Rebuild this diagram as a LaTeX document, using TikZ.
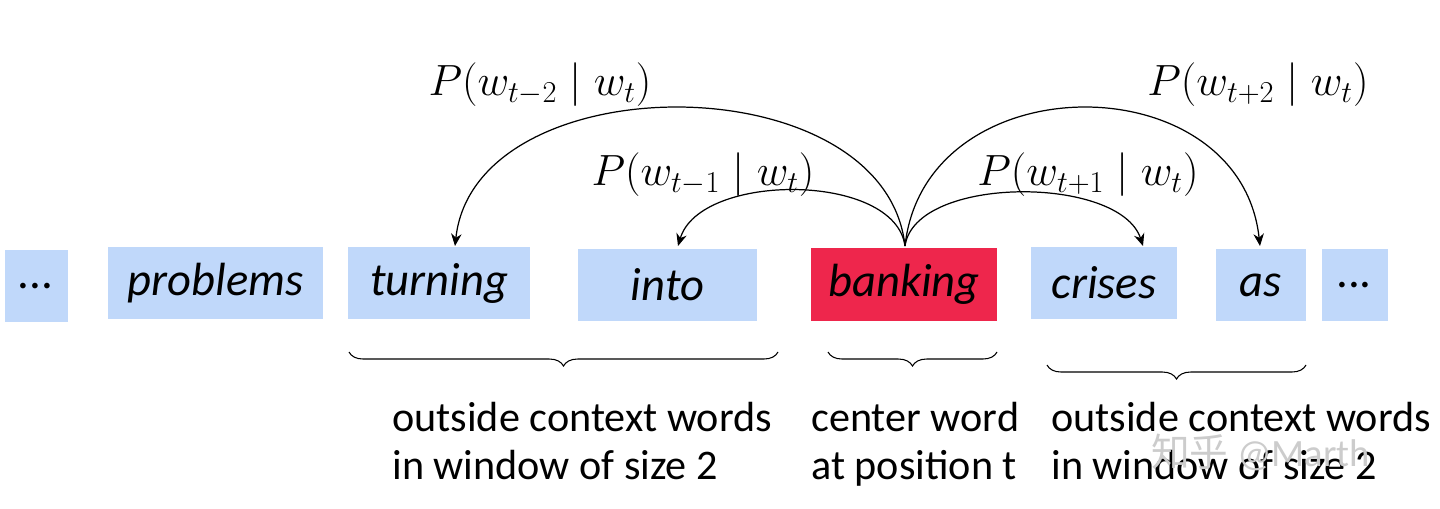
\documentclass[tikz,border=0pt]{standalone}
\usepackage{fontspec}
\setmainfont{Carlito}
\newfontfamily\cjk{Noto Sans CJK SC}
\usetikzlibrary{decorations.pathreplacing,arrows.meta}
\begin{document}
\begin{tikzpicture}[x=0.02cm,y=-0.02cm,
 wb/.style={fill={rgb,255:red,192;green,216;blue,250},inner sep=0,font=\fontsize{26.5}{28}\selectfont\itshape},
 arc/.style={-{Stealth[length=7pt,width=6pt]},line width=0.7pt},
 lab/.style={font=\fontsize{24}{27.5}\selectfont,align=left,anchor=north west,inner sep=0},
 br/.style={decorate,decoration={brace,mirror,amplitude=8pt},line width=0.6pt},
 pl/.style={font=\fontsize{25}{27}\selectfont}]
\useasboundingbox (0,0) rectangle (1440,509);
\node[wb,minimum width=63*0.02cm,minimum height=72*0.02cm] (d1) at (36.5,286) {...};
\node[wb,minimum width=215*0.02cm,minimum height=72*0.02cm] (w1) at (215.5,283) {problems};
\node[wb,minimum width=182*0.02cm,minimum height=72*0.02cm] (w2) at (439,283) {turning};
\node[wb,minimum width=179*0.02cm,minimum height=72*0.02cm] (w3) at (667.5,285) {into};
\node[wb,fill={rgb,255:red,238;green,38;blue,76},minimum width=186*0.02cm,minimum height=73*0.02cm] (w4) at (904,284.5) {banking};
\node[wb,minimum width=146*0.02cm,minimum height=72*0.02cm] (w5) at (1104,283) {crises};
\node[wb,minimum width=90*0.02cm,minimum height=72*0.02cm] (w6) at (1261,285) {as};
\node[wb,minimum width=66*0.02cm,minimum height=72*0.02cm] (d2) at (1355,285) {...};
\coordinate (s) at (905,246);
\draw[arc] (s) .. controls (885,62) and (475,62) .. (455,246);
\draw[arc] (s) .. controls (895,172) and (700,172) .. (678,246);
\draw[arc] (s) .. controls (915,175) and (1120,175) .. (1143,246);
\draw[arc] (s) .. controls (925,62) and (1240,62) .. (1260,246);
\node[pl] (p1) at (540,85) {$P(w_{t-2}\mid w_t)$};
\node[pl] (p2) at (703,175) {$P(w_{t-1}\mid w_t)$};
\node[pl] (p3) at (1088,175) {$P(w_{t+1}\mid w_t)$};
\node[pl] (p4) at (1258,85) {$P(w_{t+2}\mid w_t)$};
\coordinate (b1a) at (349,352); \coordinate (b1b) at (778,352);
\coordinate (b2a) at (828,352); \coordinate (b2b) at (997,352);
\coordinate (b3a) at (1047,365); \coordinate (b3b) at (1306,365);
\draw[br] (b1a) -- (b1b);
\draw[br] (b2a) -- (b2b);
\draw[br] (b3a) -- (b3b);
\node[lab] (t1) at (392,402) {outside context words\\in window of size 2};
\node[lab] (t2) at (811,402) {center word\\at position t};
\node[lab] (t3) at (1051,402) {outside context words\\in window of size 2};
\node[font=\fontsize{22}{24}\selectfont,text=black!20,anchor=west] (wm) at (1145,452) {{\cjk 知乎} @Marth};
\end{tikzpicture}
\end{document}
